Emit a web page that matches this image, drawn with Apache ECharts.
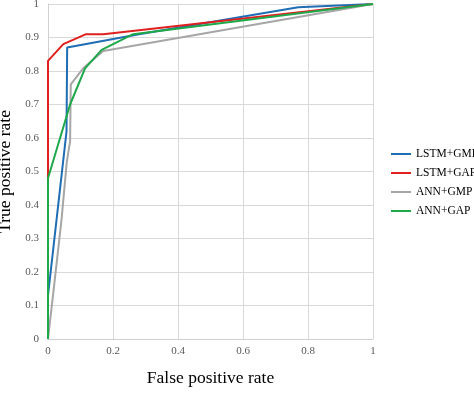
<!DOCTYPE html>
<html>
<head>
<meta charset="utf-8">
<script src="https://cdn.jsdelivr.net/npm/echarts@6/dist/echarts.min.js"></script>
<style>
  html, body { margin: 0; padding: 0; background: #fff; }
  #chart { width: 474px; height: 397px; }
</style>
</head>
<body>
<div id="chart"></div>
<script>
// ROC curves
const seriesNames = ['LSTM+GMP', 'LSTM+GAP', 'ANN+GMP', 'ANN+GAP']

const fprLstmGmp = [0, 0, 0.057, 0.059, 0.28, 0.77, 1]
const tprLstmGmp = [0, 0.13, 0.62, 0.87, 0.91, 0.99, 1]

const fprLstmGap = [0, 0, 0.047, 0.117, 0.17, 1]
const tprLstmGap = [0, 0.83, 0.88, 0.91, 0.91, 1]

const fprAnnGmp = [0, 0.02, 0.042, 0.058, 0.068, 0.07, 0.11, 0.17, 1]
const tprAnnGmp = [0, 0.17, 0.36, 0.53, 0.59, 0.76, 0.81, 0.86, 1]

const fprAnnGap = [0, 0, 0.068, 0.114, 0.165, 0.262, 1]
const tprAnnGap = [0, 0.48, 0.70, 0.808, 0.863, 0.91, 1]

const colors = ['#1f6db4', '#e0201f', '#a6a6a6', '#1ea84a']
const font = '"Liberation Serif", "DejaVu Serif", serif'

function zip (xs, ys) {
  return xs.map((x, i) => [x, ys[i]])
}

const curves = [
  zip(fprLstmGmp, tprLstmGmp),
  zip(fprLstmGap, tprLstmGap),
  zip(fprAnnGmp, tprAnnGmp),
  zip(fprAnnGap, tprAnnGap)
]

const chart = echarts.init(document.getElementById('chart'))
chart.setOption({
  animation: false,
  color: colors,
  grid: { left: 48, right: 101, top: 4, bottom: 58, outerBoundsMode: 'none', containLabel: false },
  legend: {
    orient: 'vertical',
    left: 386,
    top: 142,
    icon: 'rect',
    itemWidth: 20,
    itemHeight: 2,
    itemGap: 5,
    textStyle: { fontFamily: font, fontSize: 11.5, color: '#000', lineHeight: 14 },
    data: seriesNames
  },
  xAxis: {
    type: 'value',
    min: 0,
    max: 1,
    interval: 0.2,
    name: 'False positive rate',
    nameLocation: 'middle',
    nameGap: 30,
    nameTextStyle: { fontFamily: font, fontSize: 17.5, color: '#000' },
    axisLine: { show: true, lineStyle: { color: '#d0d0d0' } },
    axisTick: { show: false },
    axisLabel: { fontFamily: font, fontSize: 11, color: '#595959', margin: 7 },
    splitLine: { show: true, lineStyle: { color: '#d9d9d9' } }
  },
  yAxis: {
    type: 'value',
    min: 0,
    max: 1,
    interval: 0.1,
    name: 'True positive rate',
    nameLocation: 'middle',
    nameGap: 30,
    nameTextStyle: { fontFamily: font, fontSize: 17.5, color: '#000' },
    axisLine: { show: true, lineStyle: { color: '#d0d0d0' } },
    axisTick: { show: false },
    axisLabel: { fontFamily: font, fontSize: 11, color: '#595959', margin: 9 },
    splitLine: { show: true, lineStyle: { color: '#d9d9d9' } }
  },
  series: seriesNames.map((name, i) => ({
    name: name,
    type: 'line',
    showSymbol: false,
    data: curves[i],
    lineStyle: { width: 2, color: colors[i] }
  }))
})
</script>
</body>
</html>
